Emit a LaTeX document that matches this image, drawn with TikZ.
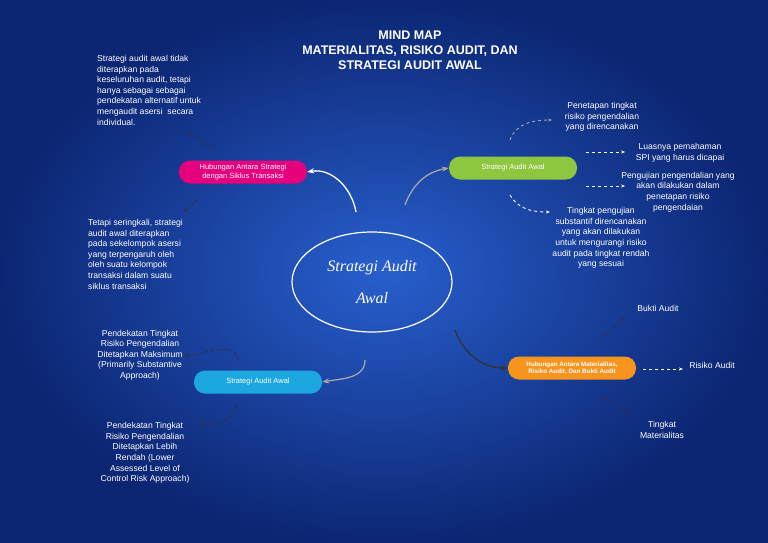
\documentclass[tikz,border=0pt]{standalone}
\usepackage{fontspec}
\setmainfont{Liberation Sans}
\newfontfamily\hand{Liberation Serif}
\usetikzlibrary{arrows.meta,shapes.geometric}
\begin{document}
\begin{tikzpicture}[x=1pt,y=-1pt,
 pill/.style={rounded corners=11pt,minimum width=128pt,minimum height=23pt,text=white,font=\fontsize{7.5}{8.5}\selectfont,align=center,inner sep=1pt},
 txt/.style={text=white,font=\fontsize{8.6}{10.6}\selectfont,align=center,inner sep=1pt},
 dsh/.style={dashed,gray!70,line width=0.9pt,-{Stealth[length=4pt]}},
 dshw/.style={dashed,white,line width=0.9pt,-{Stealth[length=4pt]}},
 main/.style={line width=1.3pt,-{Stealth[length=7pt]}}]
\shade[inner color={rgb,255:red,40;green,95;blue,205},outer color={rgb,255:red,12;green,38;blue,115}] (0,0) rectangle (768,543);
\useasboundingbox (0,0) rectangle (768,543);
\node[text=white,font=\bfseries\fontsize{12.5}{15}\selectfont,align=center] (title) at (410,50) {MIND MAP\\MATERIALITAS, RISIKO AUDIT, DAN\\STRATEGI AUDIT AWAL};
\node[draw=white,line width=1.2pt,ellipse,minimum width=160pt,minimum height=100pt] (c) at (372,282) {};
\node[text=white,font=\hand\itshape\fontsize{16}{32}\selectfont,align=center] (ct) at (372,282) {Strategi Audit\\Awal};
\node[pill,fill={rgb,255:red,230;green,0;blue,126}] (p) at (243,172) {Hubungan Antara Strategi\\dengan Siklus Transaksi};
\node[pill,fill={rgb,255:red,141;green,198;blue,63}] (g) at (513,168) {Strategi Audit Awal};
\node[pill,fill={rgb,255:red,247;green,148;blue,29},font=\bfseries\fontsize{6.3}{7.5}\selectfont] (o) at (572,368) {Hubungan Antara Materialitas,\\Risiko Audit, Dan Bukti Audit};
\node[pill,fill={rgb,255:red,28;green,167;blue,224}] (b) at (258,382) {Strategi Audit Awal};
% main connectors
\draw[main,white] (356,212) to[out=100,in=10] (p.east);
\draw[main,gray!70] (405,205) to[out=70,in=190] (g.west);
\draw[main,black!80] (455,330) to[out=-70,in=180] (o.west);
\draw[main,gray!70] (365,360) to[out=-90,in=10] (b.east);
% left texts
\node[txt,align=left,anchor=north west] (t1) at (96,54) {Strategi audit awal tidak\\diterapkan pada\\keseluruhan audit, tetapi\\hanya sebagai sebagai\\pendekatan alternatif untuk\\mengaudit asersi \ secara\\individual.};
\node[txt,align=left,anchor=north west] (t2) at (87,218) {Tetapi seringkali, strategi\\audit awal diterapkan\\pada sekelompok asersi\\yang terpengaruh oleh\\oleh suatu kelompok\\transaksi dalam suatu\\siklus transaksi};
\node[txt] (t3) at (140,355) {Pendekatan Tingkat\\Risiko Pengendalian\\Ditetapkan Maksimum\\(Primarily Substantive\\Approach)};
\node[txt] (t4) at (145,453) {Pendekatan Tingkat\\Risiko Pengendalian\\Ditetapkan Lebih\\Rendah (Lower\\Assessed Level of\\Control Risk Approach)};
\draw[dsh,black!80] (212,148) -- (187,132);
\draw[dsh,black!80] (198,200) -- (183,212);
\draw[dsh,black!80] (239,360) to[out=110,in=0] (t3.east);
\draw[dsh,black!80] (237,405) to[out=-100,in=0] (200,425);
% right texts
\node[txt] (r1) at (602,117) {Penetapan tingkat\\risiko pengendalian\\yang direncanakan};
\node[txt] (r2) at (680,153) {Luasnya pemahaman\\SPI yang harus dicapai};
\node[txt] (r3) at (678,192) {Pengujian pengendalian yang\\akan dilakukan dalam\\penetapan risiko\\pengendaian};
\node[txt] (r4) at (601,238) {Tingkat pengujian\\substantif direncanakan\\yang akan dilakukan\\untuk mengurangi risiko\\audit pada tingkat rendah\\yang sesuai};
\draw[dsh] (510,140) to[out=70,in=180] (552,120);
\draw[dshw] (586,152) -- (625,152);
\draw[dshw] (586,186) -- (625,186);
\draw[dshw] (510,195) to[out=-60,in=180] (550,212);
\node[txt] (s1) at (658,308) {Bukti Audit};
\node[txt] (s2) at (712,365) {Risiko Audit};
\node[txt] (s3) at (662,430) {Tingkat\\Materialitas};
\draw[dsh,black!80] (600,340) -- (625,318);
\draw[dshw] (643,369) -- (683,369);
\draw[dsh,black!80] (600,395) -- (630,413);
\end{tikzpicture}
\end{document}
